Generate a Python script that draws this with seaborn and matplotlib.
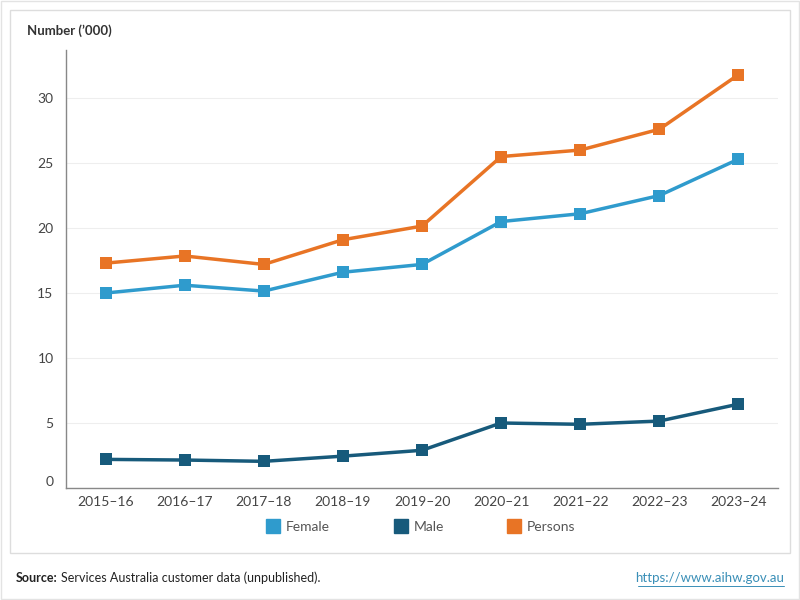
import pandas as pd
import seaborn as sns
import matplotlib.pyplot as plt
from matplotlib.patches import Rectangle
from matplotlib.lines import Line2D

# values ('000)
years = ['2015–16', '2016–17', '2017–18', '2018–19', '2019–20',
         '2020–21', '2021–22', '2022–23', '2023–24']
female = [15.0, 15.6, 15.15, 16.6, 17.2, 20.5, 21.1, 22.5, 25.3]
male = [2.2, 2.15, 2.05, 2.45, 2.9, 5.0, 4.9, 5.15, 6.45]
persons = [17.3, 17.85, 17.2, 19.1, 20.15, 25.5, 26.0, 27.6, 31.8]

series = ['Female', 'Male', 'Persons']
colours = {'Female': '#2f9bcd', 'Male': '#175a7b', 'Persons': '#e87425'}

df = pd.DataFrame({'Year': years * 3,
                   'Series': ['Female'] * 9 + ['Male'] * 9 + ['Persons'] * 9,
                   'Value': female + male + persons})
df['x'] = list(range(9)) * 3

sns.set_style('white')
plt.rcParams['font.family'] = ['Lato', 'DejaVu Sans']

fig = plt.figure(figsize=(8, 6), dpi=100)
ax = fig.add_axes([0.0825, 0.1867, 0.89, 0.73])

sns.lineplot(data=df, x='x', y='Value', hue='Series', palette=colours,
             marker='s', markersize=8, markeredgewidth=0, linewidth=2.5,
             legend=False, ax=ax)

ax.set_xlim(-0.5, 8.5)
ax.set_ylim(0, 33.7)
ax.set_xticks(range(9))
ax.set_xticklabels(years)
ax.set_yticks([0, 5, 10, 15, 20, 25, 30])
ax.set_xlabel('')
ax.set_ylabel('')
ax.tick_params(length=0, labelsize=10, colors='#444444', pad=9)
ax.tick_params(axis='x', pad=6)
ax.get_yticklabels()[0].set_verticalalignment('bottom')
ax.grid(axis='y', color='#eeeeee', linewidth=0.8)
for s in ['top', 'right']:
    ax.spines[s].set_visible(False)
for s in ['left', 'bottom']:
    ax.spines[s].set_color('#888888')
    ax.spines[s].set_linewidth(1)

fig.text(27 / 800, 1 - 31 / 600, "Number (’000)", fontsize=9.5,
         fontweight='bold', color='#333333', va='center')

handles = [Line2D([], [], marker='s', linestyle='', markersize=10,
                  color=colours[s]) for s in series]
leg = fig.legend(handles, series, loc='center left',
                 bbox_to_anchor=(254 / 800, 1 - 527 / 600),
                 ncol=3, frameon=False, fontsize=10, handletextpad=0.4,
                 columnspacing=4.6, handlelength=1)
for t in leg.get_texts():
    t.set_color('#555555')

# panel frames
fig.patches.append(Rectangle((0.0015, 0.002), 0.997, 0.996, transform=fig.transFigure,
                             fill=False, edgecolor='#e3e3e3', linewidth=1))
fig.patches.append(Rectangle((10 / 800, 1 - 553 / 600), 780 / 800, 543 / 600,
                             transform=fig.transFigure, fill=False,
                             edgecolor='#dddddd', linewidth=1))

fig.text(16 / 800, 1 - 578 / 600, 'Source:', fontsize=9, fontweight='bold',
         color='#222222', va='center')
fig.text(61 / 800, 1 - 578 / 600, 'Services Australia customer data (unpublished).',
         fontsize=9, color='#222222', va='center')
fig.text(784 / 800, 1 - 578 / 600, 'https://www.aihw.gov.au', fontsize=9.5,
         color='#3a8fb7', va='center', ha='right')
fig.add_artist(Line2D([638 / 800, 784 / 800], [1 - 586 / 600, 1 - 586 / 600],
                      color='#3a8fb7', linewidth=0.7))

fig.savefig('out.png', dpi=100)
